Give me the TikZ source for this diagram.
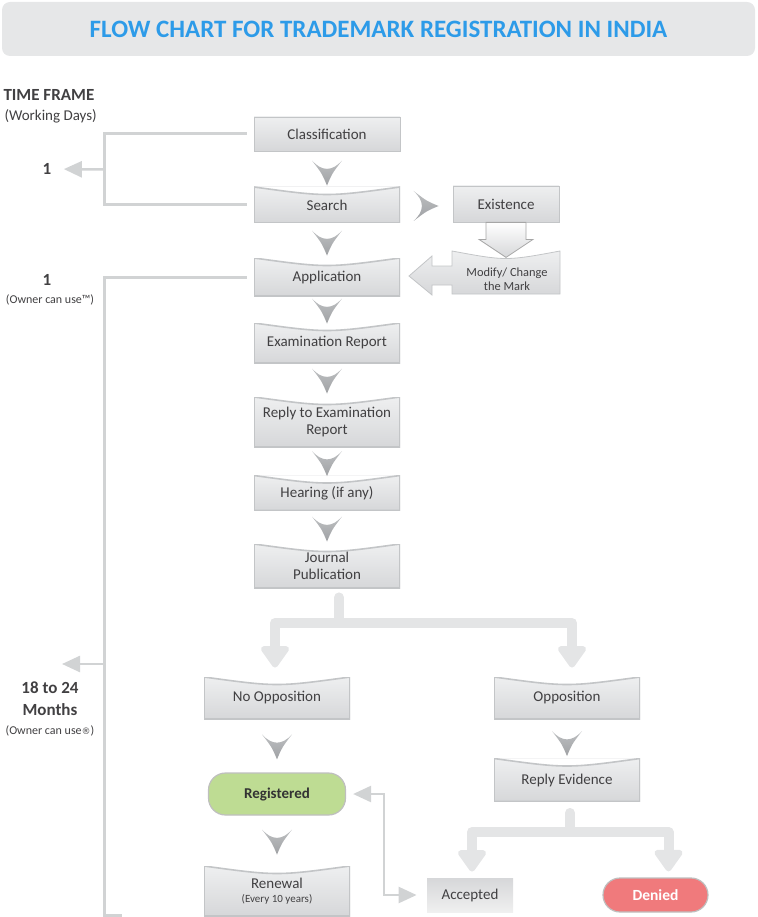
\documentclass[tikz,border=0pt]{standalone}
\usepackage{fontspec}
\setmainfont{Carlito}
\newfontfamily\tmsym{DejaVu Sans}
\usetikzlibrary{arrows.meta,calc}
\definecolor{tmBanner}{HTML}{E6E7E8}
\definecolor{tmBlue}{HTML}{2D9BE8}
\definecolor{tmText}{HTML}{414042}
\definecolor{tmBoxTop}{HTML}{EEEFF0}
\definecolor{tmBoxBot}{HTML}{D6D7D9}
\definecolor{tmEdge}{HTML}{C3C5C7}
\definecolor{tmLine}{HTML}{D1D3D4}
\definecolor{tmSplitC}{HTML}{E4E5E6}
\definecolor{tmChevTop}{HTML}{BDBFC1}
\definecolor{tmChevBot}{HTML}{9FA1A4}
\definecolor{tmGreen}{HTML}{BEDC93}
\definecolor{tmRed}{HTML}{F07A7C}
\begin{document}
\begin{tikzpicture}[x=1pt,y=-1pt,
    tmBox/.style={rectangle,minimum width=146pt,inner sep=0pt,align=center,
        top color=tmBoxTop,bottom color=tmBoxBot,draw=tmEdge,line width=0.8pt,
        text=tmText,font=\fontsize{15}{16.5}\selectfont},
    tmWave/.style={tmBox,draw=none,path picture={
        \fill[white] (path picture bounding box.north west)
            .. controls ([yshift=-10pt]path picture bounding box.north) .. (path picture bounding box.north east) -- cycle;
        \draw[tmEdge,line width=1.6pt] (path picture bounding box.north west)
            .. controls ([yshift=-10pt]path picture bounding box.north) .. (path picture bounding box.north east)
            -- (path picture bounding box.south east) -- (path picture bounding box.south west) -- cycle;}},
    tmPill/.style={rectangle,rounded corners=17pt,inner sep=0pt,draw=black!25,line width=1.2pt,
        font=\fontsize{15}{16}\selectfont\bfseries},
    tmBracket/.style={draw=tmLine,line width=3pt},
    tmThin/.style={draw=tmLine,line width=2.5pt,-{Triangle[length=18pt,width=16pt]}},
    tmSplitLine/.style={draw=tmSplitC,line width=10pt,line cap=round,line join=round},
    tmSplitArr/.style={tmSplitLine,-{Triangle[round,length=24pt,width=32pt]}},
    tmSide/.style={text=tmText,font=\fontsize{17}{22}\selectfont\bfseries,align=center},
    tmSmall/.style={text=tmText,font=\fontsize{12}{13}\selectfont},
    tmchev/.pic={\shade[top color=tmChevTop,bottom color=tmChevBot]
        (-15,-25) .. controls (-5,-14) and (5,-14) .. (15,-25)
        .. controls (5,-12) .. (0,0) .. controls (-5,-12) .. (-15,-25) -- cycle;},
]
\useasboundingbox (0,0) rectangle (757,917);
% Title
\node[fill=tmBanner,rounded corners=8pt,minimum width=753pt,minimum height=54pt,
    text=tmBlue,font=\fontsize{25}{27}\selectfont\bfseries] (title) at (378.5,29) {FLOW CHART FOR TRADEMARK REGISTRATION IN INDIA};
% Time frame column
\node[tmSide,anchor=west] (tf) at (0,95) {TIME FRAME};
\node[text=tmText,font=\fontsize{15}{16}\selectfont,anchor=west] (wd) at (1,116) {(Working Days)};
\node[tmSide] (one1) at (47,169) {1};
\node[tmSide] (one2) at (47,280) {1};
\node[tmSmall] (use1) at (50,300) {(Owner can use™)};
\node[tmSide] (mon) at (50,699) {18 to 24\\Months};
\node[tmSmall] (use2) at (50,731) {(Owner can use{\tmsym\fontsize{9}{10}\selectfont ®})};
% Main steps
\node[tmBox,minimum height=34pt] (cls) at (327,134) {Classification};
\node[tmWave,minimum height=36pt] (srch) at (327,205) {Search};
\node[tmWave,minimum height=38pt] (app) at (327,277) {Application};
\node[tmWave,minimum height=40pt] (exam) at (327,343) {Examination Report};
\node[tmWave,minimum height=50pt] (rep) at (327,422) {Reply to Examination\\Report};
\node[tmWave,minimum height=35pt] (hear) at (327,493) {Hearing (if any)};
\node[tmWave,minimum height=44pt] (jour) at (327,566) {Journal\\Publication};
\node[tmBox,minimum width=106pt,minimum height=36pt] (exist) at (506,204) {Existence};
\node[tmWave,minimum height=42pt] (noop) at (277,698) {No Opposition};
\node[tmWave,minimum height=42pt] (opp) at (567,698) {Opposition};
\node[tmPill,fill=tmGreen,text=black!80,minimum width=137pt,minimum height=42pt] (reg) at (277,794) {Registered};
\node[tmWave,minimum height=43pt] (repev) at (567,780) {Reply Evidence};
\node[tmWave,minimum height=50pt] (renew) at (277,891) {Renewal\\[-2pt]{\fontsize{11}{12}\selectfont(Every 10 years)}};
\node[tmBox,draw=none,top color=tmBoxBot,bottom color=white!94!black,minimum width=86pt,minimum height=34pt] (acc) at (470,895) {Accepted};
\node[tmPill,fill=tmRed,text=white,minimum width=105pt,minimum height=34pt,font=\fontsize{15.5}{16}\selectfont\bfseries] (den) at (655.5,895) {Denied};
% Modify / change the mark (box with arrow)
\shadedraw[top color=tmBoxTop,bottom color=tmBoxBot,draw=tmEdge,line width=0.8pt]
    (452,251) .. controls (506,261) .. (560,251) -- (560,294) -- (452,294) -- (452,285)
    -- (432,285) -- (432,295) -- (409,276) -- (432,256) -- (432,266) -- (452,266) -- cycle;
\node[text=tmText,font=\fontsize{12.4}{14}\selectfont,align=center] (mod) at (507,279) {Modify/ Change\\the Mark};
\shadedraw[top color=white,bottom color=tmBoxBot,draw=black!35,line width=0.8pt]
    ([xshift=-20pt]exist.south) -- ++(0,17) -- ++(-7,0) -- ++(27,18) -- ++(27,-18) -- ++(-7,0) -- ++(0,-17) -- cycle;
% Chevrons
\foreach \n/\d in {srch/1,app/2,exam/-1,rep/3,hear/-1,jour/2,reg/13,renew/11,repev/2}
    \pic at ([yshift=\d pt]\n.north) {tmchev};
\pic[rotate=90] at ([xshift=-14pt,yshift=-2pt]exist.west) {tmchev};
% Time frame brackets
\coordinate (tfx) at (104,0);
\coordinate (tfend) at (122,915);
\coordinate (marr) at (62,664);
\draw[tmBracket] ([xshift=-7pt]cls.west) -- (cls.west -| tfx) -- (srch.west -| tfx) -- ([xshift=-7pt]srch.west);
\draw[tmThin,shorten >=9pt] ($(cls.west -| tfx)!0.5!(srch.west -| tfx)$) -- (one1.east);
\draw[tmBracket] ([xshift=-7pt]app.west) -- (app.west -| tfx) -- (tfend -| tfx) -- (tfend);
\draw[tmThin] (marr -| tfx) -- (marr);
% Publication split
\coordinate (jbar) at (339,623);
\draw[tmSplitLine] ([xshift=12pt,yshift=-9pt]jour.south) -- (jbar);
\draw[tmSplitArr,shorten >=9pt] (jbar) -| ([xshift=-2pt]noop.north);
\draw[tmSplitArr,shorten >=9pt] (jbar) -| ([xshift=5pt]opp.north);
% Evidence split
\coordinate (ebar) at (570,832);
\draw[tmSplitLine] ([xshift=3pt,yshift=-11pt]repev.south) -- (ebar);
\draw[tmSplitArr,shorten >=6pt] (ebar) -| ([xshift=2pt]acc.north);
\draw[tmSplitArr,shorten >=6pt] (ebar) -| ([xshift=13pt]den.north);
% Accepted back to registered
\coordinate (accx) at (384,0);
\draw[tmThin,{Triangle[length=18pt,width=16pt]}-{Triangle[length=18pt,width=16pt]},shorten <=7pt,shorten >=10pt]
    (reg.east) -- (reg.east -| accx) -- (acc.west -| accx) -- (acc.west);
\end{tikzpicture}
\end{document}
